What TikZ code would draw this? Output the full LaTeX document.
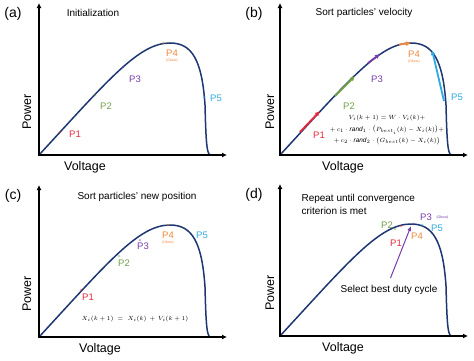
\documentclass[tikz,border=0pt]{standalone}
\usepackage{fontspec}
\setmainfont{Liberation Sans}
\usepackage{amsmath}
\usetikzlibrary{arrows.meta}
\definecolor{curveblue}{RGB}{30,55,115}
\definecolor{pone}{RGB}{232,40,60}
\definecolor{ptwo}{RGB}{112,160,70}
\definecolor{pthree}{RGB}{120,60,170}
\definecolor{pfour}{RGB}{240,135,60}
\definecolor{pfive}{RGB}{45,170,225}
\tikzset{myaxis/.style={line width=1.6pt,{Latex[length=5pt,width=5pt]}-{Latex[length=5pt,width=5pt]}},
mycurve/.style={curveblue,line width=1.5pt},
mypoint/.style={circle,fill,opacity=.4,minimum size=3pt,inner sep=0pt},
axtext/.style={font=\fontsize{12.5}{14}\selectfont},
tagtext/.style={font=\fontsize{14}{16}\selectfont},
titletext/.style={font=\fontsize{10}{13}\selectfont},
plabel/.style={font=\fontsize{9.5}{11}\selectfont},
gbest/.style={font=\fontsize{3.5}{4}\selectfont},
eqtext/.style={font=\fontsize{6.5}{11.5}\selectfont},
myarrow/.style={line width=1.8pt,-{Latex[length=5pt,width=5pt]}}}
\newcommand{\pvcurve}{\draw[mycurve] (0,0) .. controls (70,76) and (100,112) .. (131,112) .. controls (153,112) and (163,95) .. (166,50) .. controls (167,10) and (168,2) .. (171,0);}

\begin{document}
\begin{tikzpicture}[x=1pt,y=1pt]
\useasboundingbox (0,0) rectangle (474,360);
\foreach \ox/\oy/\pn/\pwx/\vlx in {39/205/a/-12/46,280/205/b/-10/63,39/23/c/-12/61,280/24/d/-10/63}{
\begin{scope}[shift={(\ox,\oy)}]
\pvcurve
\end{scope}
\coordinate (o\pn) at (\ox,\oy);
\coordinate (ytop\pn) at (\ox,\oy+152);
\coordinate (xend\pn) at (\ox+188,\oy);
\draw[myaxis] (ytop\pn) -- (o\pn) -- (xend\pn);
\node[axtext,rotate=90] (pow\pn) at (\ox+\pwx,\oy+43) {Power};
\node[axtext] (volt\pn) at (\ox+\vlx,\oy-12) {Voltage};
\node[tagtext] (tag\pn) at (\ox-26,\oy+141) {(\pn)};
}

\begin{scope}[shift={(39,205)}]
\node[titletext] (titlea) at (54,142) {Initialization};
\node[mypoint,pone] (m1a) at (21,23) {};
\node[mypoint,ptwo] (m2a) at (56,60) {};
\node[mypoint,pthree] (m3a) at (84,88) {};
\node[mypoint,pfour] (m4a) at (124,112) {};
\node[mypoint,pfive] (m5a) at (165,58) {};
\node[plabel,pone] (p1a) at (36,21) {P1};
\node[plabel,ptwo] (p2a) at (67,49) {P2};
\node[plabel,pthree] (p3a) at (96,76) {P3};
\node[plabel,pfour] (p4a) at (133,102) {P4};
\node[gbest,pfour] (g4a) at (133,94) {(Gbest)};
\node[plabel,pfive] (p5a) at (177,57) {P5};
\end{scope}

\begin{scope}[shift={(280,205)}]
\node[titletext] (titleb) at (84,142) {Sort particles' velocity};
\coordinate (r1) at (20,23);
\coordinate (r2) at (40,44);
\coordinate (g1) at (55,59);
\coordinate (g2) at (75,79);
\coordinate (v1) at (88,92);
\coordinate (v2) at (100,101);
\coordinate (o1) at (119,110.5);
\coordinate (o2) at (131,112);
\coordinate (c1) at (164,54);
\coordinate (c2) at (152,105);
\draw[myarrow,pone] (r1) -- (r2);
\draw[myarrow,ptwo] (g1) -- (g2);
\draw[myarrow,pthree] (v1) -- (v2);
\draw[myarrow,pfour] (o1) -- (o2);
\draw[myarrow,pfive] (c1) -- (c2);
\node[plabel,pone] (p1b) at (39,20) {P1};
\node[plabel,ptwo] (p2b) at (69,49) {P2};
\node[plabel,pthree] (p3b) at (97,76) {P3};
\node[plabel,pfour] (p4b) at (134,101) {P4};
\node[gbest,pfour] (g4b) at (134,93) {(Gbest)};
\node[plabel,pfive] (p5b) at (177,58) {P5};
\node[eqtext,align=center] (velo) at (107,25) {$V_i(k+1)=W\cdot V_i(k)+$\\
$+\,c_1\cdot \mathit{rand}_1\cdot\bigl(P_{best_i}(k)-X_i(k)\bigr)+$\\
$+\,c_2\cdot \mathit{rand}_2\cdot\bigl(G_{best}(k)-X_i(k)\bigr)$};
\end{scope}

\begin{scope}[shift={(39,23)}]
\node[titletext] (titlec) at (98,140) {Sort particles' new position};
\node[mypoint,pone] (m1c) at (42,47) {};
\node[mypoint,ptwo] (m2c) at (80,81) {};
\node[mypoint,pthree] (m3c) at (101,97) {};
\node[mypoint,pfour] (m4c) at (129,112) {};
\node[plabel,pone] (p1c) at (49,40) {P1};
\node[plabel,ptwo] (p2c) at (85,74) {P2};
\node[plabel,pthree] (p3c) at (104,91) {P3};
\node[plabel,pfour] (p4c) at (129,102) {P4};
\node[gbest,pfour] (g4c) at (129,94) {(Gbest)};
\node[plabel,pfive] (p5c) at (163,102) {P5};
\node[eqtext] (posi) at (96,18) {$X_i(k+1)\;=\;X_i(k)\,+\,V_i(k+1)$};
\end{scope}

\begin{scope}[shift={(280,24)}]
\node[titletext,align=left,anchor=west] (titled) at (18,132) {Repeat until convergence\\criterion is met};
\node[mypoint,ptwo] (m2d) at (115,107) {};
\node[mypoint,pone] (m1d) at (121,110) {};
\node[mypoint,pthree] (m3d) at (133,112) {};
\node[mypoint,pfive] (m5d) at (142,111) {};
\node[plabel,pone] (p1d) at (116,93) {P1};
\node[plabel,ptwo] (p2d) at (107,111) {P2};
\node[plabel,pthree] (p3d) at (146,119) {P3};
\node[gbest,pthree,anchor=west] (g3d) at (153,118) {(Gbest)};
\node[plabel,pfour] (p4d) at (137,100) {P4};
\node[plabel,pfive] (p5d) at (157,108) {P5};
\node[titletext] (sel) at (109,46) {Select best duty cycle};
\coordinate (best) at (131,110);
\draw[pthree,line width=1pt,-{Latex[length=5pt,width=4pt]},shorten <=4pt] (sel.north) -- (best);
\end{scope}
\end{tikzpicture}
\end{document}
